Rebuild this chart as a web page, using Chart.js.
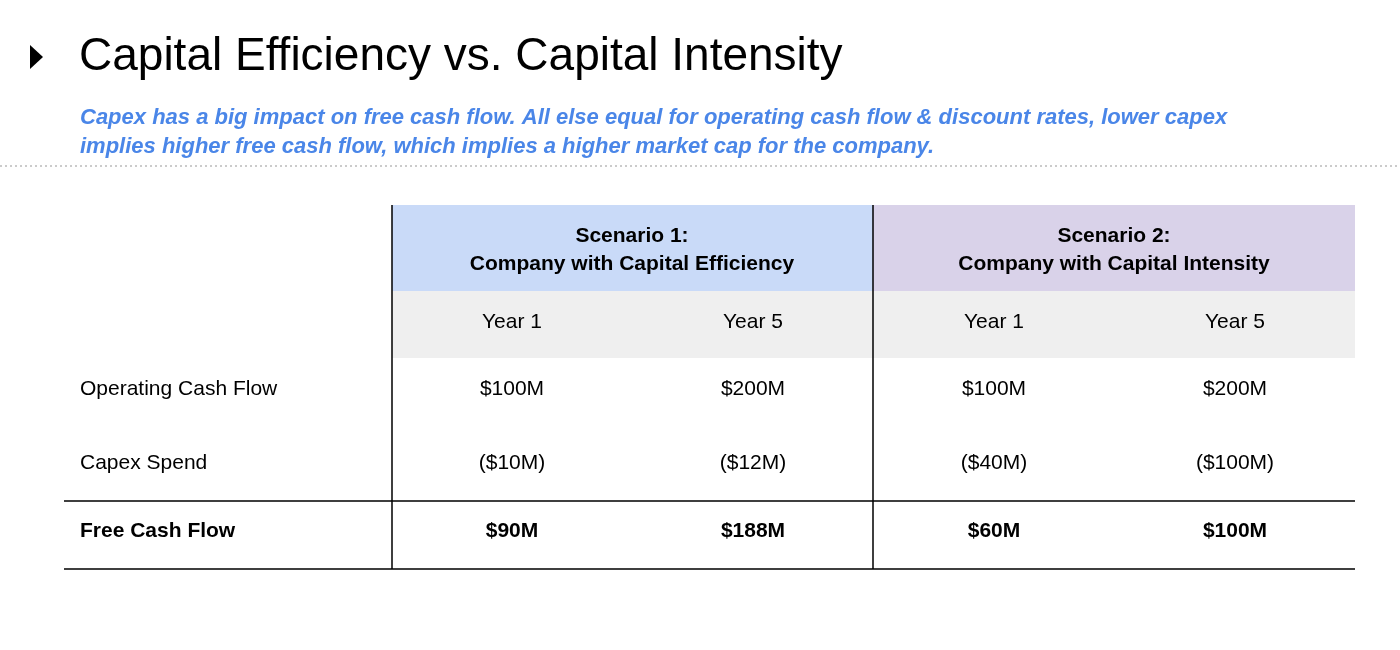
<!DOCTYPE html>
<html>
<head>
<meta charset="utf-8">
<script src="https://cdn.jsdelivr.net/npm/chart.js@4.4.1/dist/chart.umd.min.js"></script>
<style>
  html, body { margin: 0; padding: 0; background: #fff; }
</style>
</head>
<body>
<canvas id="tableChart" width="1400" height="650"></canvas>
<script>
const title = 'Capital Efficiency vs. Capital Intensity';
const subtitle = [
    'Capex has a big impact on free cash flow. All else equal for operating cash flow & discount rates, lower capex',
    'implies higher free cash flow, which implies a higher market cap for the company.'
];
const scenarios = [
    ['Scenario 1:', 'Company with Capital Efficiency'],
    ['Scenario 2:', 'Company with Capital Intensity']
];
const years = ['Year 1', 'Year 5', 'Year 1', 'Year 5'];
const rowLabels = ['Operating Cash Flow', 'Capex Spend', 'Free Cash Flow'];
const operatingCashFlow = [100, 200, 100, 200];
const capexSpend = [10, 12, 40, 100];
const freeCashFlow = [90, 188, 60, 100];

const FONT = "'Liberation Sans', Arial, sans-serif";

// column centres / row centres in page units (drawn through the chart scales)
const colCenters = [512, 753, 994, 1235];
const rowCenters = [389, 463, 531];

const tablePlugin = {
    id: 'tablePlugin',
    afterDraw(chart) {
        const ctx = chart.ctx;
        const X = v => chart.scales.x.getPixelForValue(v);
        const Y = v => chart.scales.y.getPixelForValue(v);
        ctx.save();

        // title marker + title
        ctx.fillStyle = '#000';
        ctx.beginPath();
        ctx.moveTo(X(30), Y(45)); ctx.lineTo(X(43), Y(57)); ctx.lineTo(X(30), Y(69));
        ctx.closePath(); ctx.fill();
        ctx.textBaseline = 'middle';
        ctx.textAlign = 'left';
        ctx.font = '46px ' + FONT;
        ctx.fillText(title, X(79), Y(57));

        ctx.fillStyle = '#4a86e8';
        ctx.font = 'italic bold 22px ' + FONT;
        subtitle.forEach((s, i) => ctx.fillText(s, X(80), Y(118 + i * 29)));

        // dotted separator
        ctx.strokeStyle = '#bbbbbb';
        ctx.lineWidth = 1.5;
        ctx.setLineDash([2, 3]);
        ctx.beginPath(); ctx.moveTo(X(0), Y(166)); ctx.lineTo(X(1400), Y(166)); ctx.stroke();
        ctx.setLineDash([]);

        // header fills
        ctx.fillStyle = '#c9daf8';
        ctx.fillRect(X(392), Y(205), X(873) - X(392), Y(291) - Y(205));
        ctx.fillStyle = '#d9d2e9';
        ctx.fillRect(X(873), Y(205), X(1355) - X(873), Y(291) - Y(205));
        ctx.fillStyle = '#efefef';
        ctx.fillRect(X(392), Y(291), X(1355) - X(392), Y(358) - Y(291));

        ctx.fillStyle = '#000';
        ctx.textAlign = 'center';
        ctx.font = 'bold 21px ' + FONT;
        const scCenters = [632, 1114];
        scenarios.forEach((lines, i) => {
            ctx.fillText(lines[0], X(scCenters[i]), Y(236));
            ctx.fillText(lines[1], X(scCenters[i]), Y(264));
        });
        ctx.font = '21px ' + FONT;
        years.forEach((y, i) => ctx.fillText(y, X(colCenters[i]), Y(322)));

        // row labels
        ctx.textAlign = 'left';
        rowLabels.forEach((l, i) => {
            ctx.font = (i === 2 ? 'bold ' : '') + '21px ' + FONT;
            ctx.fillText(l, X(80), Y(rowCenters[i]));
        });

        // values
        ctx.textAlign = 'center';
        ctx.font = '21px ' + FONT;
        operatingCashFlow.forEach((v, i) => ctx.fillText('$' + v + 'M', X(colCenters[i]), Y(rowCenters[0])));
        capexSpend.forEach((v, i) => ctx.fillText('($' + v + 'M)', X(colCenters[i]), Y(rowCenters[1])));
        ctx.font = 'bold 21px ' + FONT;
        freeCashFlow.forEach((v, i) => ctx.fillText('$' + v + 'M', X(colCenters[i]), Y(rowCenters[2])));

        // rules
        ctx.strokeStyle = '#000';
        ctx.lineWidth = 1.5;
        ctx.beginPath();
        ctx.moveTo(X(64), Y(501)); ctx.lineTo(X(1355), Y(501));
        ctx.moveTo(X(64), Y(569)); ctx.lineTo(X(1355), Y(569));
        ctx.moveTo(X(392), Y(205)); ctx.lineTo(X(392), Y(569));
        ctx.moveTo(X(873), Y(205)); ctx.lineTo(X(873), Y(569));
        ctx.stroke();

        ctx.restore();
    }
};

new Chart(document.getElementById('tableChart').getContext('2d'), {
    type: 'scatter',
    data: { datasets: [{ data: [] }] },
    options: {
        responsive: false,
        animation: false,
        layout: { padding: 0 },
        scales: {
            x: { type: 'linear', min: 0, max: 1400, display: false },
            y: { type: 'linear', min: 0, max: 650, reverse: true, display: false }
        },
        plugins: { legend: { display: false }, tooltip: { enabled: false } }
    },
    plugins: [tablePlugin]
});
</script>
</body>
</html>
